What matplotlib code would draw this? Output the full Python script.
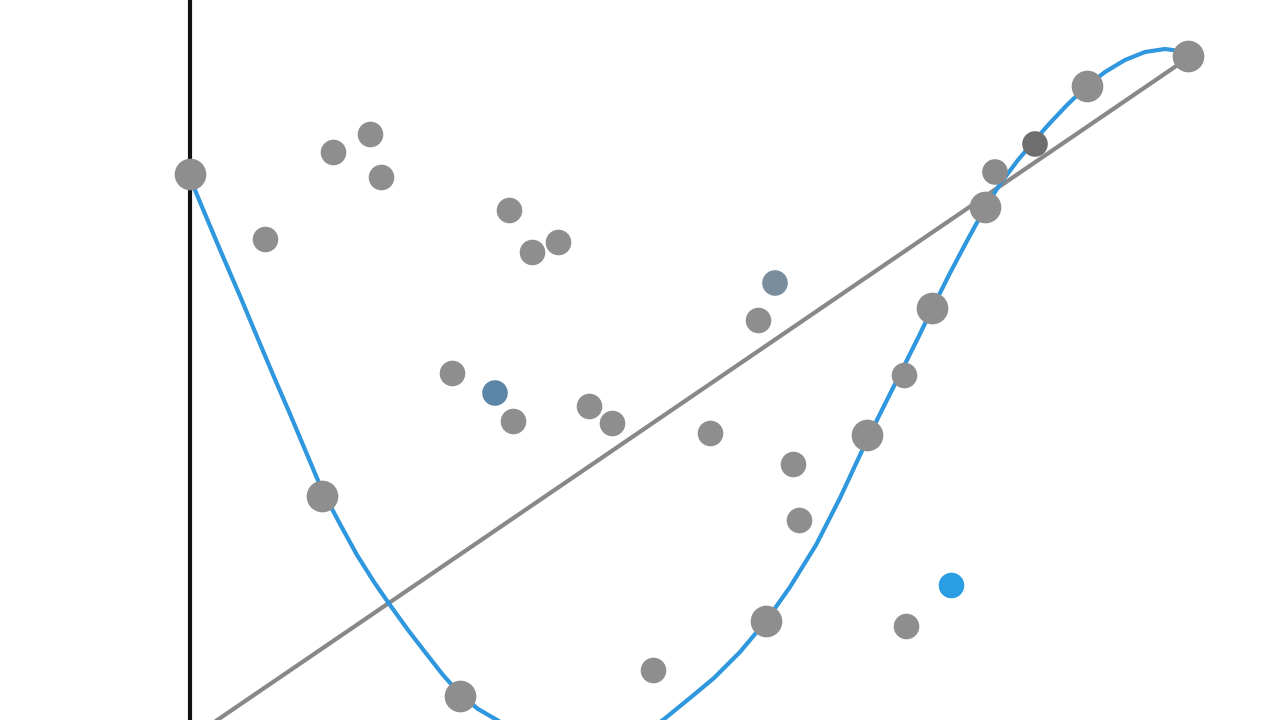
import matplotlib
matplotlib.use("Agg")
import matplotlib.pyplot as plt

# values (x: distance from the vertical axis, y: height)
fit_pts_x = [0.00, 1.32, 2.70, 5.76, 6.77, 7.42, 7.95, 8.97, 9.98]
fit_pts_y = [5.46, 2.24, 0.24, 0.99, 2.85, 4.12, 5.13, 6.34, 6.64]

other_x = [0.75, 1.43, 1.80, 1.91, 3.19, 3.42, 3.68, 2.62, 3.23, 3.99,
           4.22, 5.20, 5.68, 6.03, 6.09, 7.14, 7.16, 4.63]
other_y = [4.81, 5.68, 5.86, 5.43, 5.10, 4.68, 4.78, 3.47, 2.99, 3.14,
           2.97, 2.87, 4.00, 2.56, 2.00, 3.45, 0.94, 0.50]

slate_x = [5.85, 3.05]
slate_y = [4.37, 3.27]
slate_colors = ["#7a8d9d", "#5b86a7"]

blue_x = [7.61]
blue_y = [1.35]

dark_x = [8.45, 8.05]
dark_y = [5.76, 5.48]
dark_colors = ["#6e6e6e", "#8a8a8a"]

# fitted curve, traced along its path
curve_x = [0.00, 0.15, 0.31, 0.50, 0.68, 0.84, 1.00, 1.16, 1.32, 1.50,
           1.67, 1.84, 2.00, 2.18, 2.35, 2.53, 2.70, 2.88, 3.07, 3.30,
           3.55, 3.85, 4.15, 4.45, 4.73, 5.00, 5.24, 5.50, 5.76, 6.00,
           6.26, 6.50, 6.77, 6.95, 7.14, 7.28, 7.42, 7.60, 7.78, 7.95,
           8.10, 8.28, 8.45, 8.60, 8.78, 8.97, 9.15, 9.35, 9.55, 9.75,
           9.90, 9.98]
curve_y = [5.42, 5.06, 4.68, 4.24, 3.81, 3.43, 3.06, 2.68, 2.30, 1.96,
           1.65, 1.38, 1.15, 0.90, 0.68, 0.45, 0.26, 0.11, 0.00, -0.12,
           -0.21, -0.27, -0.26, -0.17, 0.00, 0.22, 0.42, 0.68, 0.99, 1.33,
           1.75, 2.22, 2.80, 3.16, 3.54, 3.82, 4.11, 4.47, 4.81, 5.12,
           5.36, 5.60, 5.80, 5.97, 6.16, 6.34, 6.48, 6.60, 6.68, 6.71,
           6.69, 6.66]

# straight regression line
line_x = [0.20, 9.95]
line_y = [-0.05, 6.60]


def main():
    fig = plt.figure(figsize=(12.8, 7.2), dpi=100)
    ax = fig.add_axes([0, 0, 1, 1])
    ax.set_xlim(-1.9, 10.9)
    ax.set_ylim(0, 7.2)
    ax.axis("off")

    ax.axvline(0, color="#111111", lw=3, zorder=1)
    ax.plot(line_x, line_y, color="#888888", lw=3, solid_capstyle="round", zorder=2)
    ax.plot(curve_x, curve_y, color="#2e97dd", lw=3, solid_joinstyle="round",
            solid_capstyle="round", zorder=3)

    ax.scatter(other_x, other_y, s=340, color="#8e8e8e", lw=0, zorder=4)
    ax.scatter(slate_x, slate_y, s=340, color=slate_colors, lw=0, zorder=4)
    ax.scatter(blue_x, blue_y, s=340, color="#2b9de3", lw=0, zorder=4)
    ax.scatter(dark_x, dark_y, s=340, color=dark_colors, lw=0, zorder=5)
    ax.scatter(fit_pts_x, fit_pts_y, s=520, color="#8e8e8e", lw=0, zorder=6)

    fig.savefig("out.png", dpi=100, facecolor="white")


if __name__ == "__main__":
    main()
